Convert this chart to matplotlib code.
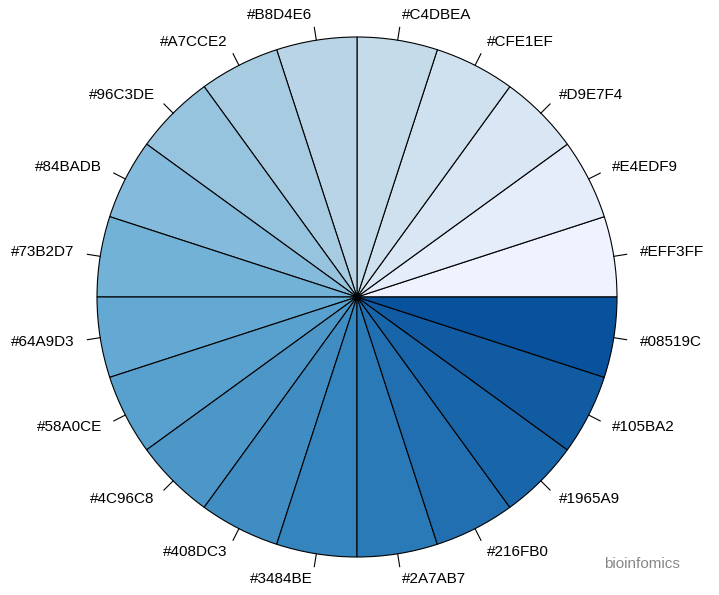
import numpy as np
import matplotlib.pyplot as plt
from matplotlib.patches import Wedge

colors = ["#EFF3FF", "#E4EDF9", "#D9E7F4", "#CFE1EF", "#C4DBEA", "#B8D4E6",
          "#A7CCE2", "#96C3DE", "#84BADB", "#73B2D7", "#64A9D3", "#58A0CE",
          "#4C96C8", "#408DC3", "#3484BE", "#2A7AB7", "#216FB0", "#1965A9",
          "#105BA2", "#08519C"]
values = [1] * len(colors)

fig = plt.figure(figsize=(7.19, 5.95), dpi=100)
ax = fig.add_axes([0, 0, 1, 1])
ax.set_xlim(-357 / 260, 362 / 260)
ax.set_ylim(-298 / 260, 297 / 260)
ax.set_aspect("equal")
ax.axis("off")

total = sum(values)
start = 0.0
for val, col in zip(values, colors):
    ang = 360.0 * val / total
    ax.add_patch(Wedge((0, 0), 1, start, start + ang, facecolor=col,
                       edgecolor="black", linewidth=0.8))
    mid = np.deg2rad(start + ang / 2)
    c, s = np.cos(mid), np.sin(mid)
    ax.plot([c, 1.05 * c], [s, 1.05 * s], color="black", linewidth=0.8)
    ax.text(1.1 * c, 1.1 * s, col, ha="left" if c > 0 else "right",
            va="center", fontsize=11, family="Liberation Sans")
    start += ang

fig.text(0.84, 0.045, "bioinfomics", fontsize=11, color="#888888",
         family="Liberation Sans")
fig.savefig("out.png", dpi=100)
